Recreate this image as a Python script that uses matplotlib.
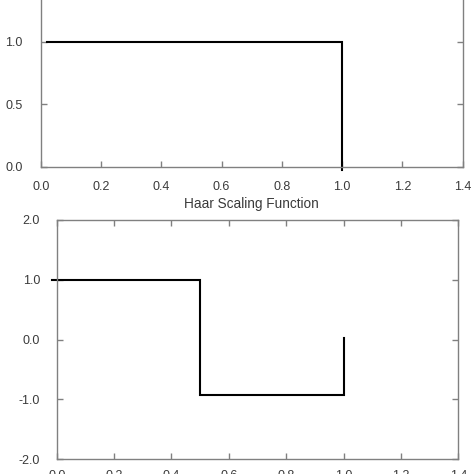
import matplotlib
matplotlib.use("Agg")
import matplotlib.pyplot as plt

# Haar scaling function (top panel)
phi_x = [0.02, 1.0, 1.0]
phi_y = [1.0, 1.0, -0.03]

# Haar wavelet (bottom panel)
psi_x = [-0.015, 0.5, 0.5, 1.0, 1.0]
psi_y = [1.0, 1.0, -0.93, -0.93, 0.02]

top_xticks = [0.0, 0.2, 0.4, 0.6, 0.8, 1.0, 1.2, 1.4]
top_yticks = [0.0, 0.5, 1.0]
bot_xticks = [0.0, 0.2, 0.4, 0.6, 0.8, 1.0, 1.2, 1.4]
bot_yticks = [-2.0, -1.0, 0.0, 1.0, 2.0]
xlabel_top = "Haar Scaling Function"

plt.rcParams['font.family'] = ['Liberation Sans', 'DejaVu Sans']

W = H = 474
fig = plt.figure(figsize=(W / 100, H / 100), dpi=100)

def fx(px):
    return px / W

def fy(py):
    return (H - py) / H

spine_c = "#808080"
label_c = "#3a3a3a"

def style(ax, xpad, ypad):
    for s in ax.spines.values():
        s.set_color(spine_c)
        s.set_linewidth(1.0)
    ax.tick_params(direction="in", length=4.5, width=1.0, color=spine_c,
                   top=True, right=True, labelsize=9, labelcolor=label_c)
    ax.tick_params(axis="x", pad=xpad)
    ax.tick_params(axis="y", pad=ypad)

# top axes
l, r, b, t = 40.7, 462.7, 166.7, -20.7
ax1 = fig.add_axes([fx(l), fy(b), (r - l) / W, (b - t) / H])
ax1.plot(phi_x, phi_y, color="black", lw=1.5, clip_on=False, solid_joinstyle="miter")
ax1.set_xlim(0, 1.4)
ax1.set_ylim(0, 1.5)
ax1.set_xticks(top_xticks)
ax1.set_xticklabels([f"{v:.1f}" for v in top_xticks])
ax1.set_yticks(top_yticks)
ax1.set_yticklabels([f"{v:.1f}" for v in top_yticks])
style(ax1, 10.5, 13)
ax1.set_xlabel(xlabel_top, fontsize=9.8, color=label_c, labelpad=3)

# bottom axes
l, r, b, t = 56.7, 458.3, 459.3, 220.0
ax2 = fig.add_axes([fx(l), fy(b), (r - l) / W, (b - t) / H])
ax2.plot(psi_x, psi_y, color="black", lw=1.5, clip_on=False, solid_joinstyle="miter")
ax2.set_xlim(0, 1.4)
ax2.set_ylim(-2, 2)
ax2.set_xticks(bot_xticks)
ax2.set_xticklabels([f"{v:.1f}" for v in bot_xticks])
ax2.set_yticks(bot_yticks)
ax2.set_yticklabels([f"{v:.1f}" for v in bot_yticks])
style(ax2, 8, 12)

fig.savefig("out.png", dpi=100)
